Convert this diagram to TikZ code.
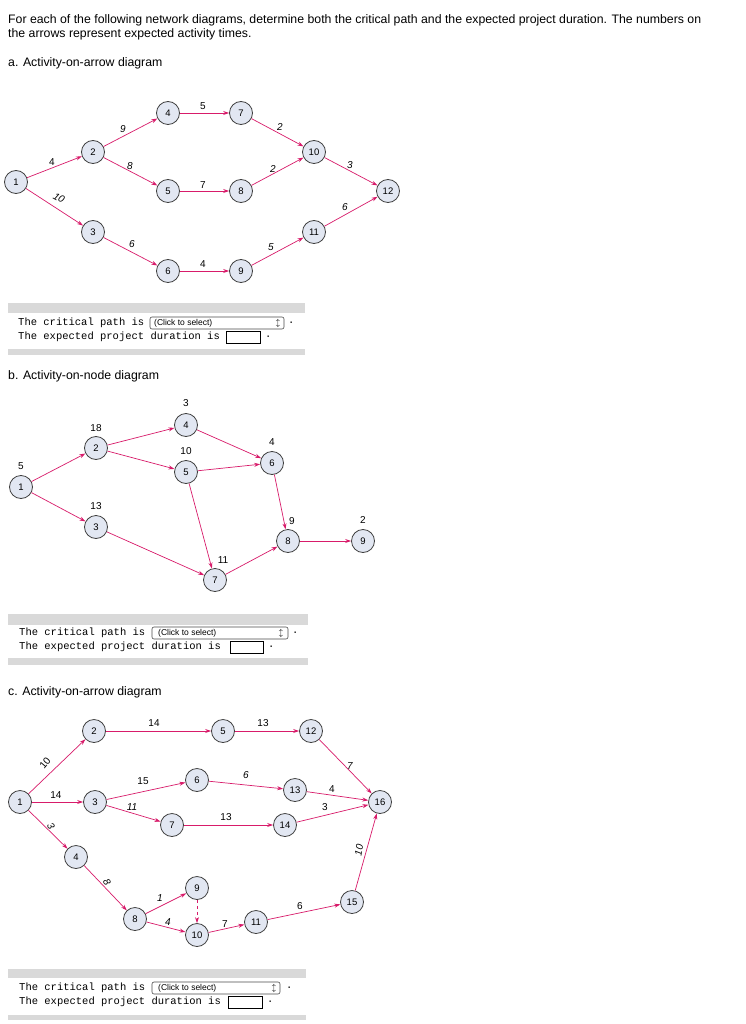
\documentclass[tikz,border=0pt]{standalone}
\usepackage{fontspec}
\setmainfont{Liberation Sans}
\setmonofont{Liberation Mono}
\usetikzlibrary{arrows.meta}
\definecolor{ed}{HTML}{D81B6A}
\definecolor{nf}{HTML}{E2E7F2}
\begin{document}
\begin{tikzpicture}[x=1pt,y=-1pt,
 nd/.style={circle,draw=black!75,fill=nf,line width=0.8pt,minimum size=23pt,inner sep=0pt,font=\fontsize{9.5}{10}\selectfont},
 ar/.style={draw=ed,line width=0.7pt,-{Stealth[length=6pt,width=4pt]}},
 lb/.style={font=\fontsize{10}{11}\selectfont,inner sep=0pt},
 il/.style={font=\fontsize{10}{11}\selectfont\itshape,inner sep=0pt},
 hd/.style={font=\fontsize{12.3}{14}\selectfont,anchor=west,inner sep=0pt},
 mt/.style={font=\ttfamily\fontsize{10.5}{12}\selectfont,anchor=west,inner sep=0pt},
 bar/.style={fill=black!15,draw=none},
 sel/.style={draw=black!70,rounded corners=2pt,line width=0.6pt},
 sl/.style={font=\fontsize{8.5}{9}\selectfont,anchor=west,inner sep=0pt},
 inp/.style={draw=black,line width=0.7pt}]
\useasboundingbox (0,0) rectangle (745,1024);
\fill[white] (0,0) rectangle (745,1024);
\node[hd] (t1) at (8,20) {For each of the following network diagrams, determine both the critical path and the expected project duration. The numbers on};
\node[hd] (t2) at (8,34) {the arrows represent expected activity times.};
\node[hd] (ha) at (8,63) {a. Activity-on-arrow diagram};
% part a
\node[nd] (a1) at (16,182) {1};
\node[nd] (a2) at (93,152) {2};
\node[nd] (a3) at (93,232) {3};
\node[nd] (a4) at (168,113) {4};
\node[nd] (a5) at (168,191) {5};
\node[nd] (a6) at (168,271) {6};
\node[nd] (a7) at (241,113) {7};
\node[nd] (a8) at (241,191) {8};
\node[nd] (a9) at (241,271) {9};
\node[nd] (a10) at (314,152) {10};
\node[nd] (a11) at (314,232) {11};
\node[nd] (a12) at (388,191) {12};
\draw[ar] (a1)--(a2); \draw[ar] (a1)--(a3); \draw[ar] (a2)--(a4); \draw[ar] (a2)--(a5);
\draw[ar] (a3)--(a6); \draw[ar] (a4)--(a7); \draw[ar] (a5)--(a8); \draw[ar] (a6)--(a9);
\draw[ar] (a7)--(a10); \draw[ar] (a8)--(a10); \draw[ar] (a9)--(a11); \draw[ar] (a10)--(a12); \draw[ar] (a11)--(a12);
\node[lb] (la1) at (52,162) {4};
\node[il,rotate=-30] (la2) at (59,198) {10};
\node[il] (la3) at (123,129) {9};
\node[il] (la4) at (130,166) {8};
\node[il] (la5) at (132,244) {6};
\node[lb] (la6) at (203,106) {5};
\node[lb] (la7) at (203,185) {7};
\node[lb] (la8) at (203,264) {4};
\node[il] (la9) at (280,127) {2};
\node[il] (la10) at (273,169) {2};
\node[il] (la11) at (271,247) {5};
\node[il] (la12) at (350,165) {3};
\node[il] (la13) at (345,207) {6};
% box a
\fill[bar] (8,303) rectangle (305,313);
\fill[bar] (8,349) rectangle (305,355);
\node[mt] (ma1) at (18,323) {The critical path is};
\draw[sel] (150,317) rectangle (284,329);
\node[sl] (sa) at (154,323) {(Click to select)};
\node[font=\fontsize{8}{9}\selectfont,inner sep=0pt] (sa2) at (278,323) {$\updownarrow$};
\node[mt] (ma2) at (288,323) {.};
\node[mt] (ma3) at (18,337) {The expected project duration is};
\draw[inp] (226,331) rectangle (260,343);
\node[mt] (ma4) at (265,337) {.};
% part b
\node[hd] (hb) at (8,376) {b. Activity-on-node diagram};
\node[nd] (b1) at (21,487) {1};
\node[nd] (b2) at (96,448) {2};
\node[nd] (b3) at (96,527) {3};
\node[nd] (b4) at (186,425) {4};
\node[nd] (b5) at (186,472) {5};
\node[nd] (b6) at (272,463) {6};
\node[nd] (b7) at (215,580) {7};
\node[nd] (b8) at (288,541) {8};
\node[nd] (b9) at (363,541) {9};
\draw[ar] (b1)--(b2); \draw[ar] (b1)--(b3); \draw[ar] (b2)--(b4); \draw[ar] (b2)--(b5);
\draw[ar] (b4)--(b6); \draw[ar] (b5)--(b6); \draw[ar] (b5)--(b7); \draw[ar] (b3)--(b7);
\draw[ar] (b6)--(b8); \draw[ar] (b7)--(b8); \draw[ar] (b8)--(b9);
\node[lb] (lb1) at (21,466) {5};
\node[lb] (lb2) at (96,428) {18};
\node[lb] (lb3) at (186,403) {3};
\node[lb] (lb4) at (186,451) {10};
\node[lb] (lb5) at (96,506) {13};
\node[lb] (lb6) at (272,442) {4};
\node[lb] (lb7) at (223,560) {11};
\node[lb] (lb8) at (292,521) {9};
\node[lb] (lb9) at (363,520) {2};
% box b
\fill[bar] (8,614) rectangle (308,625);
\fill[bar] (8,658) rectangle (308,665);
\node[mt] (mb1) at (19,633) {The critical path is};
\draw[sel] (152,627) rectangle (288,639);
\node[sl] (sb) at (158,633) {(Click to select)};
\node[font=\fontsize{8}{9}\selectfont,inner sep=0pt] (sb2) at (281,633) {$\updownarrow$};
\node[mt] (mb2) at (292,633) {.};
\node[mt] (mb3) at (19,647) {The expected project duration is};
\draw[inp] (230,641) rectangle (263,653);
\node[mt] (mb4) at (268,647) {.};
% part c
\node[hd] (hc) at (8,692) {c. Activity-on-arrow diagram};
\node[nd] (c1) at (20,802) {1};
\node[nd] (c2) at (94,731) {2};
\node[nd] (c3) at (95,802) {3};
\node[nd] (c4) at (76,857) {4};
\node[nd] (c5) at (223,731) {5};
\node[nd] (c6) at (197,780) {6};
\node[nd] (c7) at (172,825) {7};
\node[nd] (c8) at (135,919) {8};
\node[nd] (c9) at (197,888) {9};
\node[nd] (c10) at (197,935) {10};
\node[nd] (c11) at (256,922) {11};
\node[nd] (c12) at (311,731) {12};
\node[nd] (c13) at (295,790) {13};
\node[nd] (c14) at (285,825) {14};
\node[nd] (c15) at (352,902) {15};
\node[nd] (c16) at (380,802) {16};
\draw[ar] (c1)--(c2); \draw[ar] (c1)--(c3); \draw[ar] (c1)--(c4);
\draw[ar] (c2)--(c5); \draw[ar] (c5)--(c12); \draw[ar] (c12)--(c16);
\draw[ar] (c3)--(c6); \draw[ar] (c3)--(c7); \draw[ar] (c6)--(c13); \draw[ar] (c13)--(c16);
\draw[ar] (c7)--(c14); \draw[ar] (c14)--(c16); \draw[ar] (c4)--(c8);
\draw[ar] (c8)--(c9); \draw[ar] (c8)--(c10); \draw[ar,dashed] (c9)--(c10);
\draw[ar] (c10)--(c11); \draw[ar] (c11)--(c15); \draw[ar] (c15)--(c16);
\node[lb,rotate=50] (lc1) at (45,763) {10};
\node[lb] (lc2) at (56,795) {14};
\node[il,rotate=-60] (lc3) at (51,826) {3};
\node[lb] (lc4) at (154,723) {14};
\node[lb] (lc5) at (263,723) {13};
\node[il] (lc6) at (350,766) {7};
\node[lb] (lc7) at (143,781) {15};
\node[il] (lc8) at (132,807) {11};
\node[il] (lc9) at (246,775) {6};
\node[lb] (lc10) at (332,789) {4};
\node[lb] (lc11) at (226,817) {13};
\node[lb] (lc12) at (325,807) {3};
\node[il,rotate=-60] (lc13) at (107,882) {8};
\node[il] (lc14) at (160,898) {1};
\node[il] (lc15) at (168,922) {4};
\node[lb] (lc16) at (225,924) {7};
\node[lb] (lc17) at (300,906) {6};
\node[il,rotate=80] (lc18) at (359,850) {10};
% box c
\fill[bar] (8,969) rectangle (306,978);
\fill[bar] (8,1015) rectangle (306,1020);
\node[mt] (mc1) at (19,988) {The critical path is};
\draw[sel] (152,982) rectangle (280,994);
\node[sl] (sc) at (158,988) {(Click to select)};
\node[font=\fontsize{8}{9}\selectfont,inner sep=0pt] (sc2) at (274,988) {$\updownarrow$};
\node[mt] (mc2) at (286,988) {.};
\node[mt] (mc3) at (19,1002) {The expected project duration is};
\draw[inp] (228,996) rectangle (262,1008);
\node[mt] (mc4) at (267,1002) {.};
\end{tikzpicture}
\end{document}
